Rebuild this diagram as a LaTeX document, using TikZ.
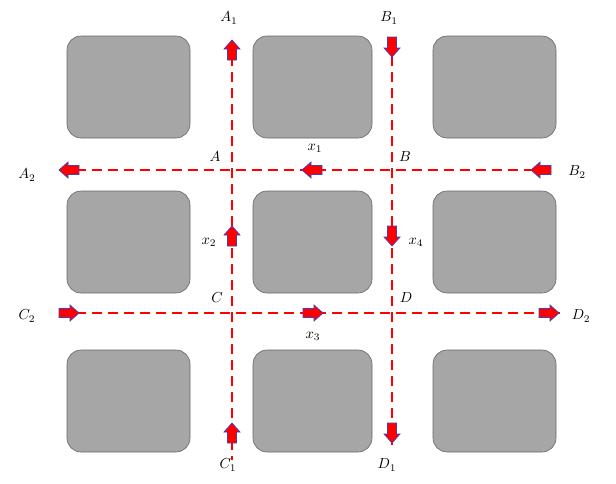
\documentclass[tikz,border=0pt]{standalone}
\begin{document}
\begin{tikzpicture}[x=1pt,y=-1pt,
  blk/.style={fill=gray!70,draw=gray!80!black,line width=0.6pt,rounded corners=14pt},
  road/.style={red,dash pattern=on 10pt off 6pt,line width=1.8pt},
  arr/.style={fill=red,draw=blue!50!gray,line width=0.7pt,line join=miter},
  lab/.style={scale=1.45}]
\useasboundingbox (0,0) rectangle (616,483);
\foreach \x/\w in {67/123,253/119,433/123}
  \foreach \y in {36,191,350}
    \draw[blk] (\x,\y) rectangle ++(\w,102);
\coordinate (v1t) at (232,40); \coordinate (v1b) at (232,460);
\coordinate (v2t) at (392,40); \coordinate (v2b) at (392,445);
\coordinate (h1l) at (60,170); \coordinate (h1r) at (552,170);
\coordinate (h2l) at (60,313); \coordinate (h2r) at (560,313);
\draw[road] (v1t) -- (v1b);
\draw[road] (v2t) -- (v2b);
\draw[road] (h1l) -- (h1r);
\draw[road] (h2l) -- (h2r);
\foreach \px/\py/\ang in {232/50/90, 392/47/-90, 69/170/180, 541/170/180, 312/170/180,
  232/236/90, 392/236/-90, 69/313/0, 313/313/0, 549/313/0, 232/433/90, 392/433/-90}
  \draw[arr,shift={(\px,\py)},rotate=\ang] (-10,-4.5) -- (1,-4.5) -- (1,-8) -- (10,0) -- (1,8) -- (1,4.5) -- (-10,4.5) -- cycle;
\node[lab] (lA1) at (229,18) {$A_1$};
\node[lab] (lB1) at (389,18) {$B_1$};
\node[lab] (lA2) at (27,175) {$A_2$};
\node[lab] (lB2) at (577,172) {$B_2$};
\node[lab] (lA) at (215,157) {$A$};
\node[lab] (lB) at (405,157) {$B$};
\node[lab] (lx1) at (315,148) {$x_1$};
\node[lab] (lx2) at (209,242) {$x_2$};
\node[lab] (lx4) at (416,242) {$x_4$};
\node[lab] (lC) at (217,298) {$C$};
\node[lab] (lD) at (406,298) {$D$};
\node[lab] (lC2) at (27,316) {$C_2$};
\node[lab] (lx3) at (313,336) {$x_3$};
\node[lab] (lD2) at (581,316) {$D_2$};
\node[lab] (lC1) at (228,465) {$C_1$};
\node[lab] (lD1) at (387,465) {$D_1$};
\end{tikzpicture}
\end{document}
